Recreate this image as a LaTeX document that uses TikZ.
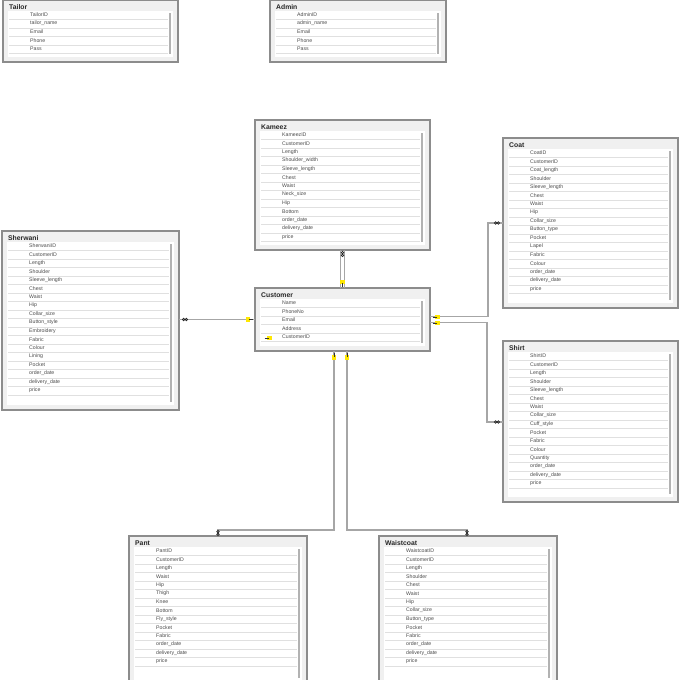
\documentclass[tikz,border=0pt]{standalone}
\usepackage{fontspec}
\setmainfont{Liberation Sans}
\begin{document}
\begin{tikzpicture}[x=1pt,y=-1pt,
 tabframe/.style={draw=black!45, line width=1.2pt, fill=black!6, rectangle, inner sep=0pt, outer sep=0pt},
 tabtitle/.style={font=\fontsize{6.8}{7}\selectfont\bfseries, inner sep=0pt, text=black!85},
 rowtext/.style={font=\fontsize{5.2}{5.5}\selectfont, inner sep=0pt, text=black!70},
 rowline/.style={draw=black!12, line width=0.5pt},
 scrollbar/.style={draw=black!30, line width=1.5pt},
 conn/.style={draw=black!35, line width=1.3pt},
 keymark/.pic={\fill[yellow!90!orange] (-1pt,-2.2pt) rectangle (3.5pt,2.2pt);
   \draw[black!80, line width=1pt] (-3.5pt,0) -- (0.5pt,0);},
 manymark/.pic={\draw[black!85, line width=0.7pt] (-1.4pt,0) circle (1.3pt) (1.4pt,0) circle (1.3pt);}
]
\useasboundingbox (0,0) rectangle (680,680);

\newcommand{\dbtable}[7]{%
  \node[tabframe, minimum width=#4pt, minimum height=#5pt, anchor=north west] (#1) at (#2,#3) {};
  \fill[white] (#2+5,#3+11) rectangle (#2+#4-5,#3+#5-5);
  \node[tabtitle, anchor=west] at (#2+6,#3+7) {#6};
  \draw[scrollbar] (#2+#4-8,#3+13) -- (#2+#4-8,#3+#5-8);
  \foreach \r [count=\i] in {#7} {
    \node[rowtext, anchor=west] at (#2+27,#3+6.5+8.5*\i) {\r};
    \draw[rowline] (#2+6,#3+10.75+8.5*\i) -- (#2+#4-10,#3+10.75+8.5*\i);
  }
}

\dbtable{tailor}{3}{0}{175}{62}{Tailor}{TailorID,tailor\_name,Email,Phone,Pass}
\dbtable{admin}{270}{0}{176}{62}{Admin}{AdminID,admin\_name,Email,Phone,Pass}
\dbtable{kameez}{255}{120}{175}{130}{Kameez}{KameezID,CustomerID,Length,Shoulder\_width,Sleeve\_length,Chest,Waist,Neck\_size,Hip,Bottom,order\_date,delivery\_date,price}
\dbtable{coat}{503}{138}{175}{170}{Coat}{CoatID,CustomerID,Coat\_length,Shoulder,Sleeve\_length,Chest,Waist,Hip,Collar\_size,Button\_type,Pocket,Lapel,Fabric,Colour,order\_date,delivery\_date,price}
\dbtable{sherwani}{2}{231}{177}{179}{Sherwani}{SherwaniID,CustomerID,Length,Shoulder,Sleeve\_length,Chest,Waist,Hip,Collar\_size,Button\_style,Embroidery,Fabric,Colour,Lining,Pocket,order\_date,delivery\_date,price}
\dbtable{customer}{255}{288}{175}{63}{Customer}{Name,PhoneNo,Email,Address,CustomerID}
\dbtable{shirt}{503}{341}{175}{161}{Shirt}{ShirtID,CustomerID,Length,Shoulder,Sleeve\_length,Chest,Waist,Collar\_size,Cuff\_style,Pocket,Fabric,Colour,Quantity,order\_date,delivery\_date,price}
\dbtable{pant}{129}{536}{178}{150}{Pant}{PantID,CustomerID,Length,Waist,Hip,Thigh,Knee,Bottom,Fly\_style,Pocket,Fabric,order\_date,delivery\_date,price}
\dbtable{waistcoat}{379}{536}{178}{150}{Waistcoat}{WaistcoatID,CustomerID,Length,Shoulder,Chest,Waist,Hip,Collar\_size,Button\_type,Pocket,Fabric,order\_date,delivery\_date,price}

% key icon in Customer
\pic at (268,338) {keymark};

% connectors
\draw[conn] ([xshift=-2pt]kameez.south) -- ([xshift=-2pt]customer.north);
\draw[conn] ([xshift=2pt]kameez.south) -- ([xshift=2pt]customer.north);
\pic[rotate=90] at ([yshift=-4pt]kameez.south) {manymark};
\pic[rotate=90] at ([yshift=5pt]customer.north) {keymark};

\draw[conn] (customer.west -| sherwani.east) -- (customer.west);
\pic at ([xshift=6pt]customer.west -| sherwani.east) {manymark};
\pic[rotate=180] at ([xshift=-6pt]customer.west) {keymark};

\coordinate (c1) at (488,223);
\draw[conn] ([yshift=3pt]customer.east) -| (c1) -- (c1 -| coat.west);
\pic at ([xshift=6pt]customer.east |- 0,317) {keymark};
\pic at ([xshift=-6pt]c1 -| coat.west) {manymark};

\coordinate (c2) at (487,422);
\draw[conn] ([yshift=-3pt]customer.east) -| (c2) -- (c2 -| shirt.west);
\pic at ([xshift=6pt]customer.east |- 0,323) {keymark};
\pic at ([xshift=-6pt]c2 -| shirt.west) {manymark};

\coordinate (c3) at (218,530);
\draw[conn] ([xshift=-8.5pt]customer.south) |- (c3) -- (c3 |- pant.north);
\pic[rotate=-90] at ([xshift=-8.5pt,yshift=-5pt]customer.south) {keymark};
\pic[rotate=90] at ([yshift=3pt]c3 |- pant.north) {manymark};

\coordinate (c4) at (467,530);
\draw[conn] ([xshift=4.5pt]customer.south) |- (c4) -- (c4 |- waistcoat.north);
\pic[rotate=-90] at ([xshift=4.5pt,yshift=-5pt]customer.south) {keymark};
\pic[rotate=90] at ([yshift=3pt]c4 |- waistcoat.north) {manymark};
\end{tikzpicture}
\end{document}
